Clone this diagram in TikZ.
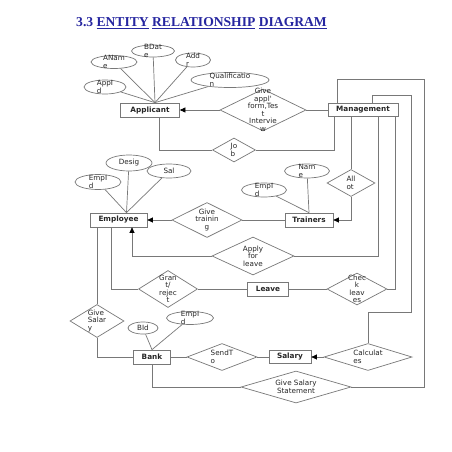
\documentclass[tikz,border=0pt]{standalone}
\usepackage{fontspec}
\usepackage{tikz}
\usetikzlibrary{arrows.meta,shapes.geometric}
\newfontfamily\diagfont{DejaVu Sans}
\newfontfamily\titlefont{Liberation Serif}
\definecolor{linegray}{RGB}{120,120,120}
\definecolor{titleblue}{RGB}{38,38,160}
\def\entfont{\diagfont\bfseries\fontsize{7.3}{8}\selectfont}
\def\attfont{\diagfont\fontsize{7.2}{7.5}\selectfont}

\begin{document}
\begin{tikzpicture}[>={Triangle[width=5pt,length=5.5pt,color=black]}, ln/.style={draw=linegray, line width=0.7pt}, every edge/.append style={draw=linegray, line width=0.7pt}, entity/.style={rectangle, draw=linegray, line width=0.7pt, minimum height=14pt, inner sep=0pt, font=\entfont, text=black!85}, attr/.style={ellipse, draw=linegray, line width=0.7pt, inner sep=0pt}, rel/.style={diamond, draw=linegray, line width=0.7pt, inner sep=0pt}, atext/.style={font=\attfont, align=center, inner sep=0pt, text=black!85}, atextl/.style={atext, align=left}]
\useasboundingbox[fill=white] (0pt, 0pt) rectangle (452pt, -452pt);
\draw (76.0pt, -27.0pt)node[anchor=base west, inner sep=0pt, text=titleblue, font=\titlefont\bfseries\fontsize{13.6}{15}\selectfont](title){3.3 \underline{ENTITY} \underline{RELATIONSHIP} \underline{DIAGRAM}};
% applicant
\draw (150.0pt, -110.0pt)node[entity, minimum width=59pt](app){Applicant};
\draw (114.0pt, -62.0pt)node[attr, minimum width=46pt, minimum height=13pt, label={[atextl]center:{ANam\\e}}](aname){};
\draw (153.0pt, -51.0pt)node[attr, minimum width=43pt, minimum height=12pt, label={[atextl]center:{BDat\\e}}](bdate){};
\draw (193.0pt, -60.0pt)node[attr, minimum width=35pt, minimum height=14pt, label={[atextl]center:{Add\\r}}](addr){};
\draw (105.0pt, -87.0pt)node[attr, minimum width=42pt, minimum height=14pt, label={[atextl]center:{AppI\\d}}](appid){};
\draw (230.0pt, -80.0pt)node[attr, minimum width=78pt, minimum height=15pt, label={[atextl]center:{Qualificatio\\n}}](qual){};
\draw (263.0pt, -110.0pt)node[rel, minimum width=86pt, minimum height=42pt, label={[atext]center:{Give\\appl'\\form,Tes\\t\\Intervie\\w}}](gappl){};
\draw (363.0pt, -110.0pt)node[entity, minimum width=70pt, minimum height=13pt](mgmt){Management};
\draw (234.0pt, -150.0pt)node[rel, minimum width=43pt, minimum height=24pt, label={[atextl]center:{Jo\\b}}](job){};
% employee
\draw (118.5pt, -220.0pt)node[entity, minimum width=57pt](emp){Employee};
\draw (98.0pt, -182.0pt)node[attr, minimum width=46pt, minimum height=15pt, label={[atextl]center:{EmpI\\d}}](eid){};
\draw (129.0pt, -163.0pt)node[attr, minimum width=46pt, minimum height=16pt, label={[atext]center:{Desig}}](desig){};
\draw (169.0pt, -171.0pt)node[attr, minimum width=44pt, minimum height=14pt, label={[atext]center:{Sal}}](esal){};
\draw (207.0pt, -220.0pt)node[rel, minimum width=70pt, minimum height=35pt, label={[atext]center:{Give\\trainin\\g}}](gtr){};
% trainers
\draw (309.0pt, -220.0pt)node[entity, minimum width=48pt](trn){Trainers};
\draw (264.0pt, -190.0pt)node[attr, minimum width=45pt, minimum height=14pt, label={[atextl]center:{EmpI\\d}}](teid){};
\draw (307.0pt, -171.0pt)node[attr, minimum width=45pt, minimum height=14pt, label={[atextl]center:{Nam\\e}}](tname){};
\draw (351.0pt, -183.0pt)node[rel, minimum width=48pt, minimum height=27pt, label={[atextl]center:{All\\ot}}](allot){};
% leave
\draw (253.0pt, -256.0pt)node[rel, minimum width=82pt, minimum height=38pt, label={[atext]center:{Apply\\for\\leave}}](apply){};
\draw (168.0pt, -289.0pt)node[rel, minimum width=59pt, minimum height=37pt, label={[atext]center:{Gran\\t/\\rejec\\t}}](grant){};
\draw (268.0pt, -289.0pt)node[entity, minimum width=41pt](leave){Leave};
\draw (357.0pt, -289.0pt)node[rel, minimum width=60pt, minimum height=32pt, label={[atext]center:{Chec\\k\\leav\\es}}](chk){};
% bank and salary
\draw (97.0pt, -321.0pt)node[rel, minimum width=54pt, minimum height=33pt, label={[atextl]center:{Give\\Salar\\y}}](gsal){};
\draw (152.0pt, -357.0pt)node[entity, minimum width=37pt](bank){Bank};
\draw (143.0pt, -328.0pt)node[attr, minimum width=30pt, minimum height=12pt, label={[atext]center:{BId}}](bid){};
\draw (190.0pt, -318.0pt)node[attr, minimum width=47pt, minimum height=13pt, label={[atextl]center:{EmpI\\d}}](beid){};
\draw (222.0pt, -357.0pt)node[rel, minimum width=70pt, minimum height=27pt, label={[atextl]center:{SendT\\o}}](send){};
\draw (290.0pt, -357.0pt)node[entity, minimum width=42pt, minimum height=13pt](salary){Salary};
\draw (368.0pt, -357.0pt)node[rel, minimum width=88pt, minimum height=27pt, label={[atextl]center:{Calculat\\es}}](calc){};
\draw (296.0pt, -387.0pt)node[rel, minimum width=110pt, minimum height=32pt, label={[atext]center:{Give Salary\\Statement}}](stmt){};
% bends
\coordinate (apptop) at ([xshift=5pt]app.north);
\coordinate (emptop) at ([xshift=8pt]emp.north);
\coordinate (mtop1) at (424pt, -79pt);
\coordinate (mtop2) at (411pt, -95pt);
\coordinate (calcturn) at (368pt, -312pt);
% attributes
\path (aname) edge (apptop);
\path (bdate) edge (apptop);
\path (addr) edge (apptop);
\path (appid) edge (apptop);
\path (qual) edge (apptop);
\path (eid) edge (emptop);
\path (desig) edge (emptop);
\path (esal) edge (emptop);
\path (teid) edge (trn.north);
\path (tname) edge (trn.north);
\path (bid) edge (bank.north);
\path (beid) edge (bank.north);
% relations
\draw[ln,->] (gappl.west) -- (app.east);
\draw[ln] (gappl.east) -- (mgmt.west);
\draw[ln] ([xshift=9pt]app.south) |- (job.west);
\draw[ln] (job.east) -| ([xshift=-29pt]mgmt.south);
\draw[ln] (allot.north |- mgmt.south) -- (allot.north);
\draw[ln,->] (allot.south) |- (trn.east);
\draw[ln,->] (gtr.west) -- (emp.east);
\draw[ln] (gtr.east) -- (trn.west);
\draw[ln] ([xshift=15pt]mgmt.south) |- (apply.east);
\draw[ln,->] (apply.west) -| ([xshift=13.5pt]emp.south);
\draw[ln] ([xshift=32pt]mgmt.south) |- (chk.east);
\draw[ln] (chk.west) -- (leave.east);
\draw[ln] (leave.west) -- (grant.east);
\draw[ln] ([xshift=-7.5pt]emp.south) |- (grant.west);
\draw[ln] (gsal.north |- emp.south) -- (gsal.north);
\draw[ln] (gsal.south) |- (bank.west);
\draw[ln] (bank.east) -- (send.west);
\draw[ln] (send.east) -- (salary.west);
\draw[ln,->] (calc.west) -- (salary.east);
\draw[ln] ([xshift=9pt]mgmt.north) |- (mtop2) |- (calcturn) -- (calc.north);
\draw[ln] ([xshift=-26pt]mgmt.north) |- (mtop1) |- (stmt.east);
\draw[ln] (bank.south) |- (stmt.west);
\end{tikzpicture}
\end{document}
